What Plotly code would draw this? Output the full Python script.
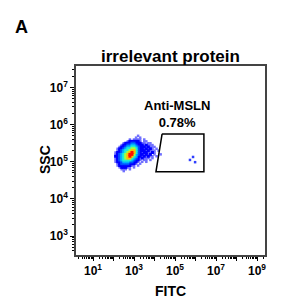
import plotly.graph_objects as go

# ---- data (log10 units) ----
# density grid: columns log10(FITC) = 2.0 + 0.1*col, rows log10(SSC) = 5.70 - 0.05*row
grid_x0, grid_dx = 2.0, 0.1
grid_y0, grid_dy = 5.70, 0.05
density_rows = [
    "............1..............",
    "...........1.1.............",
    "........1.1111.1...........",
    ".......1222221.11..........",
    ".....12223322211.11........",
    "....1223344322212111.......",
    "...122344554322212111......",
    "..122345566532212121.1.....",
    "..1234556775322212111.1....",
    ".12234567875321221121......",
    ".123456788643221212.1..1...",
    ".2234567875422121211.1.....",
    ".12345677543212111.1.......",
    ".1234555543221.11.1........",
    ".122344433221.1.1..........",
    "..1233332221.1.............",
    "..122222211.1..............",
    "...122211.1................",
    "....111.1..................",
    ".....1.....................",
]
# few events inside the gate (log10 FITC, log10 SSC)
gate_events_x = [5.73, 5.88, 5.98]
gate_events_y = [5.05, 5.13, 4.99]

# gate polygon (log10 units)
gate_x = [4.37, 6.41, 6.41, 4.07, 4.37]
gate_y = [5.75, 5.75, 4.73, 4.73, 5.75]

gate_name = "Anti-MSLN"
gate_pct = "0.78%"

x_tick_exp = [1, 3, 5, 7, 9]
y_tick_exp = [3, 4, 5, 6, 7]

level_colors = {
    1: "#7070ff", 2: "#0000ff", 3: "#0050ff", 4: "#00b0ff",
    5: "#20f0d0", 6: "#a0ff40", 7: "#ffc000", 8: "#ff1000",
}

fig = go.Figure()

pts = {}
for r, row in enumerate(density_rows):
    for c, ch in enumerate(row):
        if ch != ".":
            lv = int(ch)
            pts.setdefault(lv, ([], []))
            pts[lv][0].append(10 ** (grid_x0 + grid_dx * c))
            pts[lv][1].append(10 ** (grid_y0 - grid_dy * r))

for lv in sorted(pts):
    xs, ys = pts[lv]
    fig.add_trace(go.Scatter(
        x=xs, y=ys, mode="markers",
        marker=dict(color=level_colors[lv], size=3 if lv > 1 else 2.5,
                    symbol="square", line=dict(width=0)),
        showlegend=False, hoverinfo="skip"))

fig.add_trace(go.Scatter(
    x=[10 ** v for v in gate_events_x], y=[10 ** v for v in gate_events_y],
    mode="markers", marker=dict(color="#3040ff", size=2.5, symbol="square"),
    showlegend=False, hoverinfo="skip"))

fig.add_trace(go.Scatter(
    x=[10 ** v for v in gate_x], y=[10 ** v for v in gate_y],
    mode="lines", line=dict(color="black", width=1.5),
    showlegend=False, hoverinfo="skip"))

font_family = "Liberation Sans, Arial, sans-serif"

def all_decades(lo, hi):
    return [10 ** e for e in range(lo, hi + 1)]

x_major = all_decades(0, 9)
x_text = [f"<b>10<sup>{e}</sup></b>" if e in x_tick_exp else "" for e in range(0, 10)]
y_major = all_decades(3, 7)
y_text = [f"<b>10<sup>{e}</sup></b>" for e in range(3, 8)]

axis_common = dict(
    type="log", showgrid=False, zeroline=False,
    showline=True, linecolor="#444", linewidth=1.5, mirror=True,
    ticks="outside", ticklen=4, tickwidth=1.2, tickcolor="black",
    tickfont=dict(family=font_family, size=12, color="black"),
    minor=dict(ticks="outside", ticklen=2, tickwidth=1, tickcolor="black", dtick="D1"),
)

fig.update_xaxes(range=[0.17, 9.39], tickmode="array", tickvals=x_major, ticktext=x_text,
                 **axis_common)
fig.update_yaxes(range=[2.49, 7.58], tickmode="array", tickvals=y_major, ticktext=y_text,
                 **axis_common)

center = dict(xanchor="center", yanchor="middle", showarrow=False)
fig.add_annotation(x=(170 - 76) / 189, y=(255 - 291) / 189, xref="paper", yref="paper",
                   text="<b>FITC</b>", **center,
                   font=dict(family=font_family, size=14, color="black"))
fig.add_annotation(x=(45 - 76) / 189, y=(255 - 160) / 189, xref="paper", yref="paper",
                   text="<b>SSC</b>", textangle=-90, **center,
                   font=dict(family=font_family, size=14, color="black"))
fig.add_annotation(x=5.10, y=6.29, xref="x", yref="y",
                   text=f"<b>{gate_name}</b><br><b>{gate_pct}</b>", **center,
                   font=dict(family=font_family, size=13, color="black"))
fig.add_annotation(x=0.5, y=(255 - 57) / 189, xref="paper", yref="paper",
                   text="<b>irrelevant protein</b>", **center,
                   font=dict(family=font_family, size=17, color="black"))
fig.add_annotation(x=(21.5 - 76) / 189, y=(255 - 27) / 189, xref="paper", yref="paper",
                   text="<b>A</b>", **center,
                   font=dict(family=font_family, size=18, color="black"))

fig.update_layout(
    width=300, height=300,
    margin=dict(l=76, r=35, t=66, b=45),
    paper_bgcolor="white", plot_bgcolor="white",
    showlegend=False,
)

fig.write_html("out.html")
